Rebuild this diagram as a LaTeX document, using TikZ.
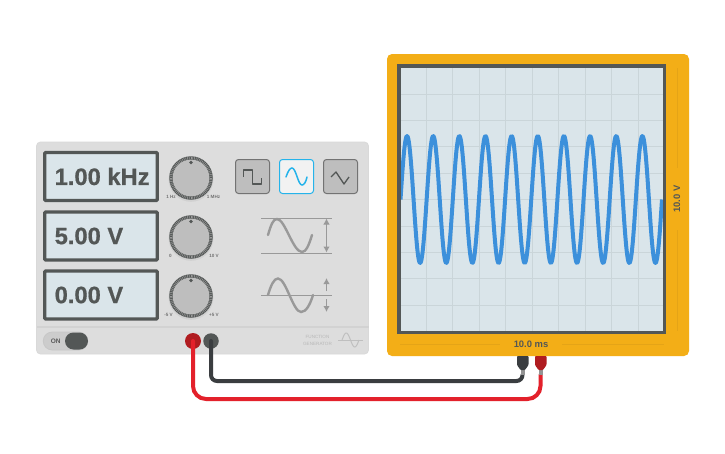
\documentclass[tikz,border=0pt]{standalone}
\usepackage{fontspec}
\setmainfont{Liberation Sans}
\newfontfamily\lcdfont[BoldFeatures={FakeBold=0.7}]{Liberation Sans}
\usetikzlibrary{arrows.meta,calc}
\definecolor{panel}{HTML}{DDDDDD}
\definecolor{panelline}{HTML}{D2D2D2}
\definecolor{dark}{HTML}{535756}
\definecolor{lcd}{HTML}{DAE5EA}
\definecolor{gridc}{HTML}{CAD5D9}
\definecolor{knobgray}{HTML}{BEBEBE}
\definecolor{iconc}{HTML}{999999}
\definecolor{orng}{HTML}{F3AE17}
\definecolor{orngline}{HTML}{E5A417}
\definecolor{wave}{HTML}{3C90DB}
\definecolor{wred}{HTML}{E3212B}
\definecolor{tred}{HTML}{B01C20}
\definecolor{wblack}{HTML}{3A3D40}
\definecolor{sinec}{HTML}{25B3EA}
\tikzset{
  lcdbox/.style={draw=dark,line width=3.4pt,fill=lcd,rounded corners=1pt,minimum width=112.5pt,minimum height=48pt,inner sep=0pt},
  lcdtext/.style={font=\fontsize{23.7}{25}\selectfont\bfseries,text=dark,inner sep=0pt,anchor=west},
  tinylabel/.style={font=\bfseries\fontsize{4.6}{5}\selectfont,text=black!55,inner sep=0pt},
  wavebtn/.style={draw=black!55,line width=1pt,fill=knobgray,rounded corners=3pt,minimum width=34pt,minimum height=34pt,inner sep=0pt},
  sinebtn/.style={draw=sinec,line width=1pt,fill=black!5,rounded corners=3pt,minimum width=34pt,minimum height=34pt,inner sep=0pt},
  btnicon/.style={line width=1.3pt,draw=dark,line join=round},
  iconline/.style={draw=iconc,line width=0.9pt},
  iconwave/.style={draw=iconc,line width=2.4pt,line cap=round},
  iconarrow/.style={draw=iconc,line width=1pt,{Latex[length=6pt,width=6.5pt]}-{Latex[length=6pt,width=6.5pt]}},
  iconsingle/.style={draw=iconc,line width=1.3pt,-{Latex[length=6pt,width=6.5pt]}},
  terminal/.style={circle,minimum size=16pt,inner sep=0pt},
  wire/.style={line width=4pt,line cap=round,rounded corners=13pt},
  gridln/.style={draw=gridc,line width=0.7pt},
  scalelabel/.style={font=\bfseries\fontsize{9.4}{10}\selectfont,text=dark,inner sep=0pt},
  scaleline/.style={draw=orngline,line width=0.7pt},
  knobbody/.style={circle,fill=dark,minimum size=43.5pt,inner sep=0pt},
}
\newcommand{\dialat}[3]{%
  \fill[black!18] (#1,#2+1.4) circle (22.4);
  \node[knobbody] (#3) at (#1,#2) {};
  \foreach \a in {0,5,...,355}{\draw[black!40,line width=0.6pt] ($(#1,#2)$) ++(\a:18.6) -- ++(\a:2.6);}
  \fill[knobgray] (#1,#2) circle (18.4);
  \fill[dark] (#1,#2-15.6) circle (1.9);
}
\begin{document}
\begin{tikzpicture}[x=1pt,y=-1pt]
\useasboundingbox (0,0) rectangle (725,453);
\fill[white] (0,0) rectangle (725,453);
% generator panel
\node[draw=black!15,line width=0.8pt,fill=panel,rounded corners=4pt,minimum width=332pt,minimum height=212pt,inner sep=0pt] (gen) at (202.5,248) {};
\draw[panelline,line width=1.6pt] (37,327) -- (368.5,327);
% displays
\node[lcdbox] (d1) at (101,176.5) {};
\node[lcdbox] (d2) at (101,236) {};
\node[lcdbox] (d3) at (101,295) {};
\node[lcdtext] (t1) at (54.5,176.5) {\lcdfont\bfseries 1.00 kHz};
\node[lcdtext] (t2) at (54.5,236) {\lcdfont\bfseries 5.00 V};
\node[lcdtext] (t3) at (54.5,295) {\lcdfont\bfseries 0.00 V};
% dials
\dialat{191}{178}{k1}
\dialat{191}{237}{k2}
\dialat{191}{296}{k3}
\node[tinylabel] (l1) at (171,196.5) {1 Hz};
\node[tinylabel] (l2) at (213.5,196.5) {1 MHz};
\node[tinylabel] (l3) at (170.5,256) {0};
\node[tinylabel] (l4) at (214,256) {10 V};
\node[tinylabel] (l5) at (168.5,314.5) {-5 V};
\node[tinylabel] (l6) at (214,314.5) {+5 V};
% wave buttons
\node[wavebtn] (b1) at (252.5,176.5) {};
\node[sinebtn] (b2) at (296.5,176.5) {};
\node[wavebtn] (b3) at (340.5,176.5) {};
\draw[btnicon] (243.7,177) -- (243.7,170) -- (252.5,170) -- (252.5,184) -- (261.5,184) -- (261.5,178);
\draw[draw=sinec,line width=1.5pt,line cap=round] (286,177) .. controls (288,171) and (290,168) .. (292,168) .. controls (296,168) and (298,185) .. (302,185) .. controls (304,185) and (306,182) .. (307,177);
\draw[btnicon] (331,177) -- (336,172) -- (344,184) -- (349,177);
% amplitude icon
\draw[iconline] (261,218) -- (332,218);
\draw[iconline] (261,253) -- (332,253);
\draw[iconwave] (268,235) .. controls (271,225) and (273,219) .. (277,219) .. controls (285,219) and (293,252) .. (302,252) .. controls (306,252) and (309,245) .. (312,235);
\draw[iconarrow] (326.5,218.5) -- (326.5,252.5);
% offset icon
\draw[iconline] (261,295) -- (332,295);
\draw[iconwave] (268,295) .. controls (271,285) and (274,278.5) .. (278,278.5) .. controls (286,278.5) and (293,312) .. (301,312) .. controls (306,312) and (310,305) .. (313,295);
\draw[iconsingle] (326.5,291) -- (326.5,278);
\draw[iconsingle] (326.5,299) -- (326.5,312);
% switch
\node[draw=black!22,line width=0.8pt,fill=black!20,rounded corners=9pt,minimum width=44.5pt,minimum height=18pt,inner sep=0pt] (sw) at (65.5,341) {};
\node[fill=dark,rounded corners=8.5pt,minimum width=23pt,minimum height=17pt,inner sep=0pt] (swk) at (76.5,341) {};
\node[font=\bfseries\fontsize{6.5}{7}\selectfont,text=black!65,inner sep=0pt] (on) at (55.7,341) {ON};
% brand
\node[font=\fontsize{4.6}{6.5}\selectfont,text=black!28,align=center,inner sep=0pt] (brand) at (317.5,340.5) {FUNCTION\\GENERATOR};
\draw[black!25,line width=0.7pt] (338,340) -- (363,340);
\draw[black!25,line width=1pt] plot[domain=0:360,samples=40] ({342+\x/360*17},{340-7*sin(\x)});
% oscilloscope
\node[fill=orng,rounded corners=5pt,minimum width=302pt,minimum height=302pt,inner sep=0pt] (osc) at (538,205) {};
\node[fill=lcd,minimum width=265.5pt,minimum height=266pt,inner sep=0pt] (scr) at (531.75,199) {};
\foreach \i in {1,...,9}{
  \draw[gridln] (399.5+26.5*\i,67) -- (399.5+26.5*\i,331);
  \draw[gridln] (400,67.5+26.4*\i) -- (664,67.5+26.4*\i);
}
\draw[wave,line width=4pt,line join=round] plot[domain=0:3600,samples=500] ({400.5+\x/3600*261.5},{199.5-63.5*sin(\x)});
\draw[dark,line width=3.4pt] (scr.north west) rectangle (scr.south east);
\node[scalelabel] (xs) at (531,344) {10.0 ms};
\node[scalelabel,rotate=90] (ys) at (677,199) {10.0 V};
\draw[scaleline] (400,344) -- (500,344) (562,344) -- (664,344);
\draw[scaleline] (677,68) -- (677,168) (677,230) -- (677,331);
% terminals
\node[terminal,fill=tred] (tr) at (193,341) {};
\node[terminal,fill=dark,minimum size=15.5pt] (tb) at (211,341) {};
% plug anchors and wires
\coordinate (nb) at (522.5,375);
\coordinate (nr) at (540.5,375);
\coordinate (lowb) at (211,381);
\coordinate (lowr) at (193,399);
\draw[wire,wblack,rounded corners=6pt] (tb.center) -- (lowb) -| (nb);
\draw[wire,wred] (tr.center) -- (lowr) -| (nr);
% plugs
\fill[black!42] (520.5,366) rectangle (524.5,375);
\fill[black!42] (538.5,366) rectangle (542.5,375);
\fill[wblack,rounded corners=0.8pt] (517,356) -- (528.5,356) -- (528.5,365) -- (525,370) -- (520.5,370) -- (517,365) -- cycle;
\fill[tred,rounded corners=0.8pt] (535,356) -- (546.5,356) -- (546.5,365) -- (543,370) -- (538.5,370) -- (535,365) -- cycle;
\end{tikzpicture}
\end{document}
